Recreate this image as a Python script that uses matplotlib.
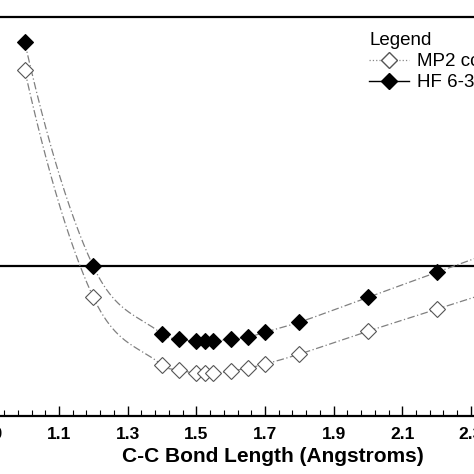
import matplotlib.pyplot as plt
import numpy as np
from matplotlib.lines import Line2D
from matplotlib.ticker import FixedLocator

plt.rcParams['font.family'] = ['Liberation Sans', 'DejaVu Sans']

bond_length = [1.0, 1.2, 1.4, 1.45, 1.5, 1.525, 1.55, 1.6, 1.65, 1.7, 1.8, 2.0, 2.2, 2.4]
mp2_energy = [78.8, -12.4, -39.6, -41.6, -42.8, -42.8, -42.8, -42.0, -40.8, -39.2, -35.2, -26.0, -17.2, -8.4]
hf_energy = [90.0, 0.0, -27.2, -29.2, -30.0, -30.0, -30.0, -29.2, -28.4, -26.4, -22.4, -12.4, -2.4, 7.6]
LABELS = ["MP2 cc-pVDZ", "HF 6-31G*"]


def smooth_curve(x, y, n=500):
    # cubic hermite with centred slopes (catmull-rom like), goes through every point
    x = np.asarray(x, float)
    y = np.asarray(y, float)
    h = np.diff(x)
    d = np.diff(y) / h
    m = np.zeros_like(y)
    m[1:-1] = (y[2:] - y[:-2]) / (x[2:] - x[:-2])
    m[0] = ((2 * h[0] + h[1]) * d[0] - h[0] * d[1]) / (h[0] + h[1])
    m[-1] = ((2 * h[-1] + h[-2]) * d[-1] - h[-1] * d[-2]) / (h[-1] + h[-2])
    xs = np.linspace(x[0], x[-1], n)
    i = np.clip(np.searchsorted(x, xs) - 1, 0, len(x) - 2)
    t = (xs - x[i]) / h[i]
    ys = ((2 * t**3 - 3 * t**2 + 1) * y[i] + (t**3 - 2 * t**2 + t) * h[i] * m[i]
          + (-2 * t**3 + 3 * t**2) * y[i + 1] + (t**3 - t**2) * h[i] * m[i + 1])
    return xs, ys


fig = plt.figure(figsize=(4.74, 4.74), dpi=100)
# axes runs past the left and right edges of the picture (cropped figure)
ax = fig.add_axes([-44 / 474, 58 / 474, 583.6 / 474, 399 / 474])

for yvals, face, edge in [(mp2_energy, 'white', '#555555'), (hf_energy, 'black', 'black')]:
    xs, ys = smooth_curve(bond_length, yvals)
    ax.plot(xs, ys, color='#808080', lw=0.9, ls=(0, (6, 2, 1, 2)), zorder=2)
    ax.plot(bond_length, yvals, ls='none', marker='D', ms=8, mfc=face, mec=edge, mew=0.8, zorder=3)

ax.axhline(0, color='black', lw=1.6, zorder=1)

ax.set_xlim(0.8, 2.5)
ax.set_ylim(-60, 100)
ax.xaxis.set_major_locator(FixedLocator(np.arange(0.9, 2.51, 0.2)))
ax.xaxis.set_minor_locator(FixedLocator(np.arange(0.82, 2.5, 0.04)))
ax.set_xticklabels(["%.1f" % v for v in np.arange(0.9, 2.51, 0.2)], fontweight='bold', fontsize=12.5)
ax.tick_params(axis='x', which='major', direction='in', length=7, width=1, pad=8)
ax.tick_params(axis='x', which='minor', direction='in', length=4, width=0.8)
ax.set_yticks([])
ax.set_xlabel("C-C Bond Length (Angstroms)", fontweight='bold', fontsize=15)
ax.xaxis.set_label_coords(0.543, -0.078)

for side in ['left', 'right']:
    ax.spines[side].set_visible(False)
ax.spines['top'].set_linewidth(1.6)
ax.spines['bottom'].set_linewidth(1.6)

handles = [Line2D([], [], color='#888888', lw=0.9, ls=':', marker='D', ms=8, mfc='white', mec='#555555'),
           Line2D([], [], color='black', lw=1.0, ls='-', marker='D', ms=8, mfc='black', mec='black')]
leg = fig.legend(handles, LABELS, title="Legend", loc='upper left',
                 bbox_to_anchor=(360 / 474, 1 - 23 / 474), frameon=False,
                 fontsize=13.5, title_fontsize=13.5, alignment='left',
                 handlelength=2.1, handletextpad=0.43, labelspacing=0.2, borderpad=0)

fig.savefig("out.png", dpi=100)
